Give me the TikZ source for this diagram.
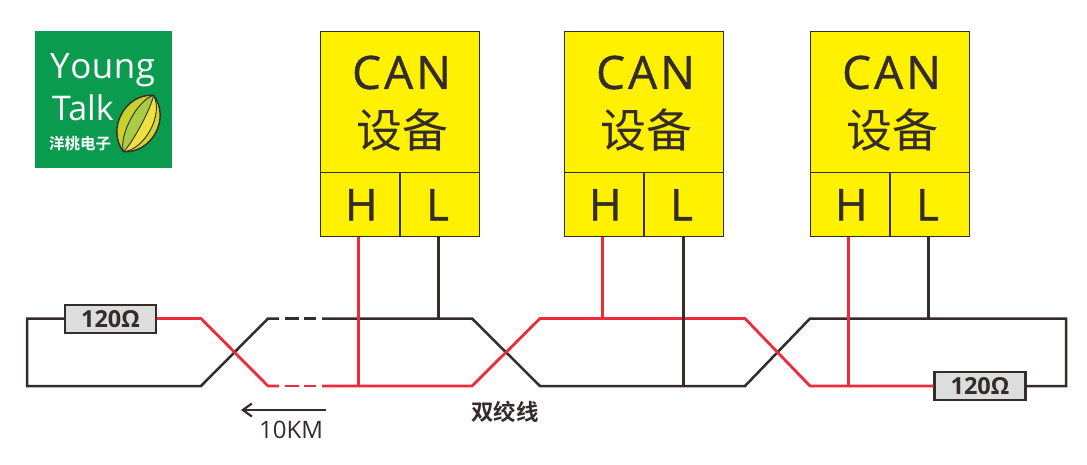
\documentclass[tikz,border=0pt]{standalone}
\usepackage{fontspec}
\setmainfont{Open Sans}
\newfontfamily\ltsf[FakeBold=0.8]{Open Sans}
\newfontfamily\cjk{Noto Sans CJK SC}
\newfontfamily\cjkb{Noto Sans CJK SC Bold}
\usetikzlibrary{arrows.meta}
\definecolor{ink}{HTML}{332C2B}
\definecolor{wred}{HTML}{EE2A3C}
\definecolor{devy}{HTML}{FFF100}
\definecolor{logog}{HTML}{0A9B4F}
\definecolor{resg}{HTML}{DCDDDD}
\definecolor{melA}{HTML}{C8D22E}
\definecolor{melB}{HTML}{A9CB45}
\definecolor{melC}{HTML}{F0E03E}
\definecolor{melD}{HTML}{D3D636}
\tikzset{
  devbox/.style={draw=ink,line width=1.4pt,fill=devy,minimum width=158.5pt,minimum height=141pt,inner sep=0pt,anchor=north west},
  pinbox/.style={draw=ink,line width=1.4pt,fill=devy,minimum width=79.25pt,minimum height=64pt,inner sep=0pt,anchor=north west,font=\ltsf\fontsize{44}{44}\selectfont,text=ink},
  devtext/.style={text=ink,inner sep=0pt,anchor=center},
  res/.style={draw=ink,line width=2.4pt,fill=resg,minimum width=91pt,minimum height=28pt,inner sep=0pt,font=\bfseries\fontsize{23.5}{24}\selectfont,text=ink},
  blk/.style={draw=ink,line width=2.5pt,line join=miter},
  rd/.style={draw=wred,line width=2.8pt,line join=miter},
  mel/.style={draw=ink,line width=.9pt,line join=round},
}
\newcommand{\candev}[2]{%
  \node[devbox] (d#1) at (#2,31) {};
  \node[devtext,font=\ltsf\fontsize{46}{46}\selectfont] (c#1) at (#2+81.5,72.5) {C\kern3pt A\kern3pt N};
  \node[devtext,font=\cjk\fontsize{46}{46}\selectfont] (s#1) at (#2+82,130.5) {设备};
  \node[pinbox] (h#1) at (#2,172) {\kern2pt H};
  \node[pinbox] (l#1) at (#2+79.25,172) {L\kern4pt};
}
\begin{document}
\begin{tikzpicture}[x=1pt,y=-1pt]
\useasboundingbox (0,0) rectangle (1087,464);
% logo
\node[fill=logog,minimum width=137pt,minimum height=137pt,inner sep=0pt,anchor=north west] (logo) at (35,31) {};
\node[text=white,anchor=west,inner sep=0pt,font=\fontsize{35}{35}\selectfont] (young) at (50,70) {Y\kern.5pt o\kern.5pt u\kern.5pt n\kern.5pt g};
\node[text=white,anchor=west,inner sep=0pt,font=\fontsize{34}{34}\selectfont] (talk) at (52,108) {Talk};
\node[text=white,anchor=west,inner sep=0pt,font=\cjkb\fontsize{15.5}{15.5}\selectfont] (yt) at (49,144) {洋桃电子};
\begin{scope}[shift={(138.5,123.5)},rotate=62]
  \fill[fill=melA] (-32,0) .. controls (-20,-26) and (20,-26) .. (32,0) .. controls (20,-12) and (-20,-12) .. cycle;
  \fill[fill=melB] (-32,0) .. controls (-20,-12) and (20,-12) .. (32,0) .. controls (20,4) and (-20,4) .. cycle;
  \fill[fill=melC] (-32,0) .. controls (-20,4) and (20,4) .. (32,0) .. controls (20,18) and (-20,18) .. cycle;
  \fill[fill=melD] (-32,0) .. controls (-20,18) and (20,18) .. (32,0) .. controls (20,26) and (-20,26) .. cycle;
  \draw[mel] (-32,0) .. controls (-20,-12) and (20,-12) .. (32,0);
  \draw[mel] (-32,0) .. controls (-20,4) and (20,4) .. (32,0);
  \draw[mel] (-32,0) .. controls (-20,18) and (20,18) .. (32,0);
  \draw[ink,line width=1.4pt,line join=round] (-32,0) .. controls (-20,-26) and (20,-26) .. (32,0) .. controls (20,26) and (-20,26) .. cycle;
\end{scope}
% devices
\candev{1}{320}
\candev{2}{564}
\candev{3}{810}
% resistors
\node[res] (r1) at (110.5,319) {120Ω};
\node[res] (r2) at (980,386) {120Ω};
% wire points
\coordinate (tl) at (27,318.5);
\coordinate (bl) at (27,386);
\coordinate (a1) at (201,318.5);
\coordinate (a2) at (201,386);
\coordinate (b1) at (268,318.5);
\coordinate (b2) at (268,386);
\coordinate (c1) at (472,318.5);
\coordinate (c2) at (472,386);
\coordinate (e1) at (540,318.5);
\coordinate (e2) at (540,386);
\coordinate (f1) at (745,318.5);
\coordinate (f2) at (745,386);
\coordinate (g1) at (810,318.5);
\coordinate (g2) at (810,386);
\coordinate (tr) at (1066,318.5);
\coordinate (br) at (1066,386);
\coordinate (arr1) at (326,410);
\coordinate (arr2) at (241,410);
% black wire
\draw[blk] (r1.west |- tl) -- (tl) -- (bl) -- (a2) -- (b1) -- ++(11,0);
\draw[blk] (b1) ++(17,0) -- ++(14,0);
\draw[blk] (b1) ++(36,0) -- ++(12,0);
\draw[blk] (b1) ++(54,0) -- (c1) -- (e2) -- (f2) -- (g1) -- (tr) -- (br) -- (r2.east);
% red wire
\draw[rd] (r1.east |- tl) -- (a1) -- (b2) -- ++(11,0);
\draw[rd] (b2) ++(17,0) -- ++(14,0);
\draw[rd] (b2) ++(36,0) -- ++(12,0);
\draw[rd] (b2) ++(54,0) -- (c2) -- (e1) -- (f1) -- (g2) -- (r2.west);
% drops
\draw[blk] ([xshift=-1pt]l1.south) -- ++(0,82);
\draw[blk] (l2.south) -- ++(0,150);
\draw[blk] ([xshift=-1pt]l3.south) -- ++(0,82);
\draw[rd] ([xshift=-1.5pt]h1.south) -- ++(0,150);
\draw[rd] ([xshift=-1.5pt]h2.south) -- ++(0,82);
\draw[rd] ([xshift=-1.5pt]h3.south) -- ++(0,150);
% labels
\draw[ink,line width=2.4pt,-{Straight Barb[length=9pt,width=13pt,line width=2.2pt]}] (arr1) -- (arr2);
\node[text=ink,inner sep=0pt,font=\fontsize{24}{24}\selectfont] (km) at (291,430) {10KM};
\node[text=ink,inner sep=0pt,font=\cjkb\fontsize{22.5}{22.5}\selectfont] (tw) at (505,412) {双绞线};
\end{tikzpicture}
\end{document}
